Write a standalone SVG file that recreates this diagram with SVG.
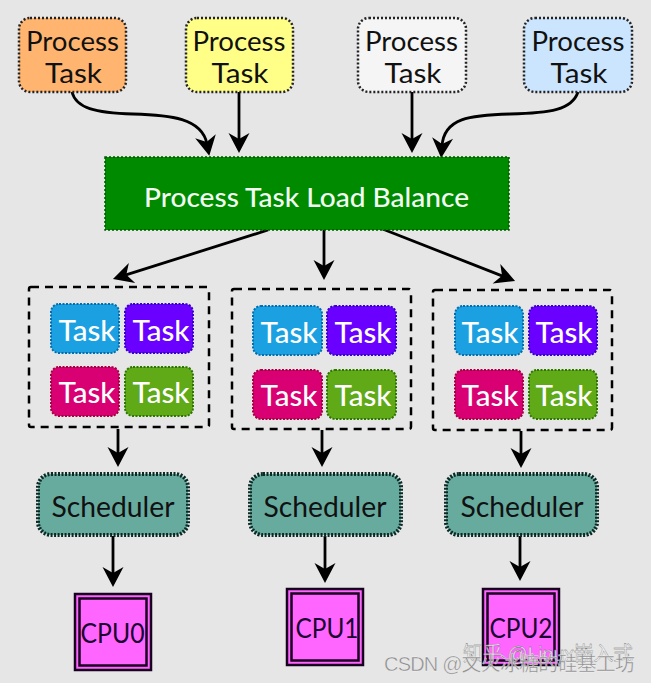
<svg xmlns="http://www.w3.org/2000/svg" width="651" height="683" viewBox="0 0 651 683">
<style>
text{font-family:"Lato","Noto Sans",sans-serif;text-anchor:middle}
.pt rect{stroke:#222;stroke-width:2.5;stroke-dasharray:2 2}
.pt text{font-size:27px;fill:#111}
.t rect{stroke-width:2;stroke-dasharray:2 1.5}
.t text{font-size:28px;fill:#fff;font-weight:500}
.g{fill:none;stroke:#000;stroke-width:2.500;stroke-dasharray:8 6}
.s rect{fill:#67ab9f;stroke:#0b2a24;stroke-width:4;stroke-dasharray:2 1.500}
.s text{font-size:28px;fill:#111}
.c .o{fill:#ff66ff;stroke:#1a0020;stroke-width:2.5}
.c .i{fill:#ff66ff;stroke:#1a0020;stroke-width:2.5}
.c text{font-size:26px;fill:#1a0030}
.e{fill:none;stroke:#000;stroke-width:2.8;marker-end:url(#a)}
.w{font-family:"Liberation Sans","Noto Sans CJK SC",sans-serif;font-size:20px;text-anchor:start}
.w1{fill:#f4f4f4;fill-opacity:.8;stroke:#666;stroke-width:.3}
.w2{fill:#8c8c8c;stroke:#fff;stroke-width:.5;stroke-opacity:.7}
</style>
<defs>
<marker id="a" markerUnits="userSpaceOnUse" markerWidth="24" markerHeight="24" viewBox="-10 -12 24 24" refX="0" refY="0" orient="auto">
<path d="M12,0L-8,-10.500L-2,0L-8,10.500Z" fill="#000"/>
</marker>
</defs>
<rect id="background" width="651" height="683" fill="#e6e6e6"/>
<g id="connectors">
<path class="e" d="M72,92C76,108 95,113 133,114C170,115 202,118 207,144"/>
<path class="e" d="M239,92V141"/>
<path class="e" d="M412,92V141"/>
<path class="e" d="M578,92C572,110 550,113 510,114C470,115 444,118 442,146"/>
<path class="e" d="M268,230L124.400,275.400"/>
<path class="e" d="M324,230V268"/>
<path class="e" d="M380,228L503.900,276.600"/>
<path class="e" d="M118,429V455"/>
<path class="e" d="M322,430V455"/>
<path class="e" d="M521,431V456"/>
<path class="e" d="M113,536V575"/>
<path class="e" d="M325,536V571"/>
<path class="e" d="M520,536V569"/>
</g>
<g id="process-1" class="pt"><rect x="19" y="18" width="107" height="74" rx="11" fill="#ffb570"/><text x="72.500" y="51" textLength="93" lengthAdjust="spacingAndGlyphs">Process</text><text x="73.500" y="83" textLength="57" lengthAdjust="spacingAndGlyphs">Task</text></g>
<g id="process-2" class="pt"><rect x="186" y="18" width="107" height="74" rx="11" fill="#ffff88"/><text x="239" y="51" textLength="93" lengthAdjust="spacingAndGlyphs">Process</text><text x="240" y="83" textLength="57" lengthAdjust="spacingAndGlyphs">Task</text></g>
<g id="process-3" class="pt"><rect x="358" y="18" width="108" height="74" rx="11" fill="#f5f5f5"/><text x="411.500" y="51" textLength="93" lengthAdjust="spacingAndGlyphs">Process</text><text x="413" y="83" textLength="57" lengthAdjust="spacingAndGlyphs">Task</text></g>
<g id="process-4" class="pt"><rect x="524" y="18" width="108" height="74" rx="11" fill="#cce5ff"/><text x="578" y="51" textLength="93" lengthAdjust="spacingAndGlyphs">Process</text><text x="579" y="83" textLength="57" lengthAdjust="spacingAndGlyphs">Task</text></g>
<g id="load-balance"><rect x="105" y="157" width="404" height="73" fill="#008a00" stroke="#005700" stroke-width="1.500" stroke-dasharray="2 2"/><text x="306.500" y="207" font-size="27" font-weight="500" fill="#f2fff2" textLength="325" lengthAdjust="spacingAndGlyphs">Process Task Load Balance</text></g>
<g id="group-1"><rect class="g" x="29" y="287" width="180" height="140" rx="2"/>
<g class="t"><rect x="51" y="304" width="68" height="49" rx="8" fill="#1ba1e2" stroke="#006eaf"/><text x="87" y="341" textLength="57" lengthAdjust="spacingAndGlyphs">Task</text></g>
<g class="t"><rect x="125" y="304" width="68" height="49" rx="8" fill="#6a00ff" stroke="#3700cc"/><text x="161" y="341" textLength="57" lengthAdjust="spacingAndGlyphs">Task</text></g>
<g class="t"><rect x="51" y="367" width="68" height="49" rx="8" fill="#d80073" stroke="#a50040"/><text x="87" y="403" textLength="57" lengthAdjust="spacingAndGlyphs">Task</text></g>
<g class="t"><rect x="125" y="367" width="68" height="49" rx="8" fill="#60a917" stroke="#2d7600"/><text x="161" y="403" textLength="57" lengthAdjust="spacingAndGlyphs">Task</text></g></g>
<g id="group-2"><rect class="g" x="232" y="289" width="179" height="140" rx="2"/>
<g class="t"><rect x="253" y="306" width="69" height="49" rx="8" fill="#1ba1e2" stroke="#006eaf"/><text x="289" y="343" textLength="57" lengthAdjust="spacingAndGlyphs">Task</text></g>
<g class="t"><rect x="327" y="306" width="69" height="49" rx="8" fill="#6a00ff" stroke="#3700cc"/><text x="363" y="343" textLength="57" lengthAdjust="spacingAndGlyphs">Task</text></g>
<g class="t"><rect x="253" y="370" width="69" height="49" rx="8" fill="#d80073" stroke="#a50040"/><text x="289" y="406" textLength="57" lengthAdjust="spacingAndGlyphs">Task</text></g>
<g class="t"><rect x="327" y="370" width="69" height="49" rx="8" fill="#60a917" stroke="#2d7600"/><text x="363" y="406" textLength="57" lengthAdjust="spacingAndGlyphs">Task</text></g></g>
<g id="group-3"><rect class="g" x="433" y="290" width="179" height="140" rx="2"/>
<g class="t"><rect x="455" y="306" width="68" height="49" rx="8" fill="#1ba1e2" stroke="#006eaf"/><text x="490" y="343" textLength="57" lengthAdjust="spacingAndGlyphs">Task</text></g>
<g class="t"><rect x="529" y="306" width="68" height="49" rx="8" fill="#6a00ff" stroke="#3700cc"/><text x="564" y="343" textLength="57" lengthAdjust="spacingAndGlyphs">Task</text></g>
<g class="t"><rect x="455" y="370" width="68" height="49" rx="8" fill="#d80073" stroke="#a50040"/><text x="490" y="406" textLength="57" lengthAdjust="spacingAndGlyphs">Task</text></g>
<g class="t"><rect x="529" y="370" width="68" height="49" rx="8" fill="#60a917" stroke="#2d7600"/><text x="564" y="406" textLength="57" lengthAdjust="spacingAndGlyphs">Task</text></g></g>
<g id="scheduler-0" class="s"><rect x="38" y="474" width="150" height="61" rx="13"/><text x="113" y="517" textLength="123" lengthAdjust="spacingAndGlyphs">Scheduler</text></g>
<g id="scheduler-1" class="s"><rect x="250" y="474" width="151" height="61" rx="13"/><text x="325" y="517" textLength="123" lengthAdjust="spacingAndGlyphs">Scheduler</text></g>
<g id="scheduler-2" class="s"><rect x="446" y="474" width="151" height="61" rx="13"/><text x="522" y="517" textLength="123" lengthAdjust="spacingAndGlyphs">Scheduler</text></g>
<g id="cpu-0" class="c"><rect class="o" x="75" y="594" width="76" height="76"/><rect class="i" x="79.500" y="598.500" width="67" height="67"/><text x="112.500" y="643" textLength="64" lengthAdjust="spacingAndGlyphs">CPU0</text></g>
<g id="cpu-1" class="c"><rect class="o" x="287" y="589" width="76" height="76"/><rect class="i" x="291.500" y="593.500" width="67" height="67"/><text x="327" y="638" textLength="63" lengthAdjust="spacingAndGlyphs">CPU1</text></g>
<g id="cpu-2" class="c"><rect class="o" x="483" y="589" width="76" height="76"/><rect class="i" x="487.500" y="593.500" width="67" height="67"/><text x="521" y="638" textLength="63" lengthAdjust="spacingAndGlyphs">CPU2</text></g>
<text class="w w1" x="463" y="661" textLength="170">知乎 @Linux嵌入式</text>
<text class="w w2" x="384" y="671" textLength="251">CSDN @文火冰糖的硅基工坊</text>
</svg>
